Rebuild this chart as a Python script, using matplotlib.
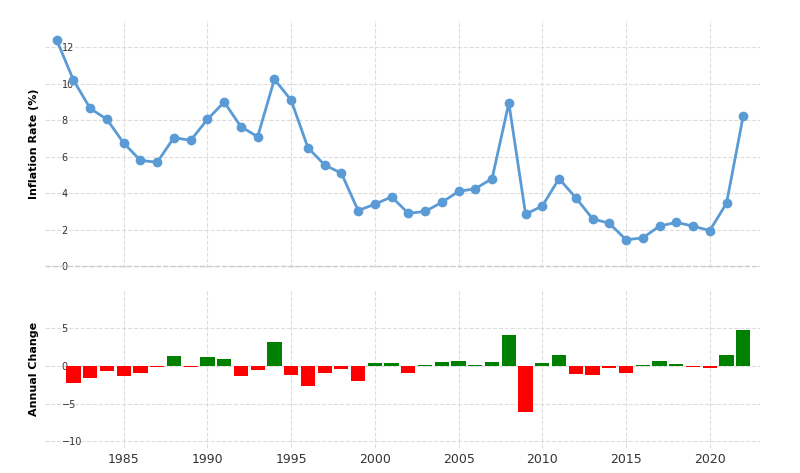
import matplotlib
matplotlib.use('Agg')
import matplotlib.pyplot as plt

years = list(range(1981, 2023))
inflation = [12.4, 10.2, 8.65, 8.05, 6.75, 5.8, 5.7, 7.05, 6.9, 8.05, 9.0, 7.65, 7.1, 10.25,
             9.1, 6.5, 5.55, 5.1, 3.05, 3.4, 3.8, 2.9, 3.0, 3.5, 4.1, 4.25, 4.8, 8.95, 2.85,
             3.3, 4.8, 3.75, 2.6, 2.35, 1.45, 1.55, 2.2, 2.4, 2.2, 1.95, 3.45, 8.25]
change_years = list(range(1982, 2023))
change = [-2.2, -1.55, -0.6, -1.3, -0.95, -0.1, 1.35, -0.15, 1.15, 0.95, -1.35, -0.55, 3.15,
          -1.15, -2.6, -0.95, -0.45, -2.05, 0.35, 0.4, -0.9, 0.1, 0.5, 0.6, 0.15, 0.55, 4.15,
          -6.1, 0.45, 1.5, -1.05, -1.15, -0.25, -0.9, 0.1, 0.65, 0.2, -0.2, -0.25, 1.5, 4.8]

W, H = 800, 473
fig = plt.figure(figsize=(8, 4.73), dpi=100)
left, width = 45 / W, 715 / W
ax1 = fig.add_axes([left, 1 - 268 / H, width, 248 / H])
ax2 = fig.add_axes([left, 1 - 448 / H, width, 158 / H])

ax1.plot(years, inflation, color='#5b9bd5', lw=2, marker='o', ms=6, zorder=3)
ax1.set_ylim(-0.1, 13.5)
ax1.set_yticks([0, 2, 4, 6, 8, 10, 12])
ax1.set_ylabel('Inflation Rate (%)', fontsize=8, fontweight='bold')

colors = ['green' if c >= 0 else 'red' for c in change]
ax2.bar(change_years, change, width=0.85, color=colors, zorder=3)
ax2.set_ylim(-10.9, 10.1)
ax2.set_yticks([-10, -5, 0, 5])
ax2.set_ylabel('Annual Change', fontsize=8, fontweight='bold')
ax2.set_xticks([1985, 1990, 1995, 2000, 2005, 2010, 2015, 2020])

for ax in (ax1, ax2):
    ax.set_xlim(1980.3, 2023)
    for s in ax.spines.values():
        s.set_visible(False)
    ax.grid(True, ls='--', color='#dddddd', lw=0.8, zorder=0)
    ax.tick_params(axis='y', length=0, pad=-12, labelsize=7, labelcolor='#333333')
    for t in ax.get_yticklabels():
        t.set_horizontalalignment('left')
    ax.tick_params(axis='x', length=0, labelsize=9, labelcolor='#333333')
ax1.set_xticks([1985, 1990, 1995, 2000, 2005, 2010, 2015, 2020])
ax1.tick_params(axis='x', labelbottom=False)
ax1.axhline(0, color='#cccccc', lw=1, ls='--')

fig.savefig('out.png')
